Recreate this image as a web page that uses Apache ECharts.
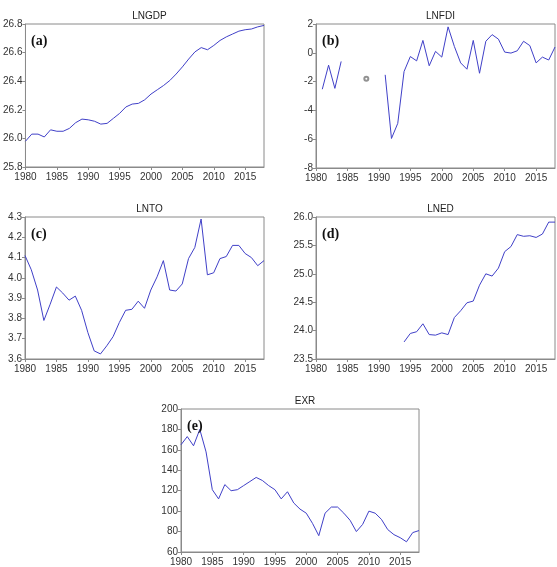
<!DOCTYPE html>
<html><head><meta charset="utf-8">
<script src="https://cdn.jsdelivr.net/npm/echarts@6/dist/echarts.min.js"></script>
<style>html,body{margin:0;padding:0;background:#fff}#c{width:557px;height:567px}</style>
</head><body><div id="c"></div>
<script>
const years = [];
for (let y = 1980; y <= 2018; y++) years.push(y);
const xTicks = [1980,1985,1990,1995,2000,2005,2010,2015];
const titles = ['LNGDP','LNFDI','LNTO','LNED','EXR'];
const panelLabels = ['(a)','(b)','(c)','(d)','(e)'];

const lngdp = [25.98,26.03,26.03,26.01,26.06,26.05,26.05,26.07,26.11,26.135,26.13,26.12,26.10,26.105,26.14,26.175,26.22,26.24,26.245,26.27,26.31,26.34,26.37,26.405,26.45,26.50,26.555,26.605,26.635,26.62,26.65,26.685,26.71,26.73,26.75,26.76,26.765,26.78,26.79];
const lnfdi = [null,-2.53,-0.86,-2.47,-0.6,null,null,null,-1.81,null,null,-1.53,-5.95,-4.9,-1.3,-0.26,-0.56,0.86,-0.9,0.1,-0.3,1.8,0.44,-0.7,-1.14,0.86,-1.42,0.8,1.26,0.95,0.05,-0.02,0.14,0.8,0.5,-0.7,-0.3,-0.5,0.4];
const lnto = [4.11,4.04,3.94,3.79,3.87,3.955,3.925,3.89,3.91,3.84,3.73,3.64,3.625,3.665,3.71,3.78,3.84,3.845,3.885,3.85,3.94,4.005,4.085,3.94,3.935,3.97,4.095,4.15,4.29,4.015,4.025,4.095,4.105,4.16,4.16,4.12,4.10,4.06,4.085];
const lned = [null,null,null,null,null,null,null,null,null,null,null,null,null,null,23.8,23.95,23.98,24.12,23.93,23.92,23.96,23.93,24.23,24.35,24.49,24.52,24.8,25.0,24.96,25.1,25.39,25.48,25.69,25.66,25.67,25.64,25.70,25.91,25.91];
const exr = [165,173,164,180,158,121,112,126,120,121,125,129,133,130,125,121,112,119,108,102,98,88,76,98,104,104,98,91,80,87,100,98,92,82,77,74,70,79,81];

const yMin = [25.8,-8,3.6,23.5,60];
const yMax = [26.8,2,4.3,26.0,200];
const yStep = [0.2,2,0.1,0.5,20];
const yDec = [1,0,1,1,0];
const series = [lngdp,lnfdi,lnto,lned,exr];

const grids = [
  {left:25,top:24,width:239,height:143},
  {left:316,top:24,width:239,height:144},
  {left:25,top:217,width:239,height:142},
  {left:316,top:217,width:239,height:142},
  {left:181,top:409,width:238,height:144}
];
const lineColor = '#4040c8';
const axisColor = '#8a8a8a';
const font = 'Liberation Sans';

const option = {
  animation:false,
  backgroundColor:'#fff',
  grid: grids.map(g=>Object.assign({show:true,borderColor:axisColor,borderWidth:1,backgroundColor:'transparent'},g)),
  title: [],
  xAxis: [], yAxis: [], series: []
};
grids.forEach((g,i)=>{
  option.title.push({text:titles[i],left:g.left+g.width/2,top:g.top-18,textAlign:'center',
    textStyle:{fontFamily:font,fontSize:10,fontWeight:'normal',color:'#222'}});
  option.title.push({text:panelLabels[i],left:g.left+1,top:g.top+5,
    textStyle:{fontFamily:'Liberation Serif',fontSize:14,fontWeight:'bold',color:'#111'}});
  option.xAxis.push({type:'value',gridIndex:i,min:1980,max:2018,interval:5,
    axisLine:{show:true,onZero:false,lineStyle:{color:axisColor}},
    axisTick:{show:true,length:3,lineStyle:{color:axisColor}},
    splitLine:{show:false},
    axisLabel:{fontFamily:font,fontSize:10,color:'#333',margin:5,showMaxLabel:false,
      formatter:v=>xTicks.includes(v)?String(v):''}});
  option.yAxis.push({type:'value',gridIndex:i,min:yMin[i],max:yMax[i],interval:yStep[i],
    axisLine:{show:true,lineStyle:{color:axisColor}},
    axisTick:{show:true,length:3,lineStyle:{color:axisColor}},
    splitLine:{show:false},
    axisLabel:{fontFamily:font,fontSize:10,color:'#333',margin:3,formatter:v=>Number(v).toFixed(yDec[i])}});
  const d = series[i];
  option.series.push({type:'line',xAxisIndex:i,yAxisIndex:i,
    data:years.map((y,k)=>[y,d[k]]),showSymbol:false,connectNulls:false,
    lineStyle:{color:lineColor,width:1},itemStyle:{color:lineColor}});
  const iso = [];
  d.forEach((v,k)=>{ if(v!==null && (k===0||d[k-1]===null) && (k===d.length-1||d[k+1]===null)) iso.push([years[k],v]); });
  if(iso.length) option.series.push({type:'scatter',xAxisIndex:i,yAxisIndex:i,data:iso,z:5,
    symbol:'emptyCircle',symbolSize:4,itemStyle:{color:'#777',borderColor:'#777',borderWidth:0.8}});
});
echarts.init(document.getElementById('c'),null,{renderer:'canvas'}).setOption(option);
</script></body></html>
